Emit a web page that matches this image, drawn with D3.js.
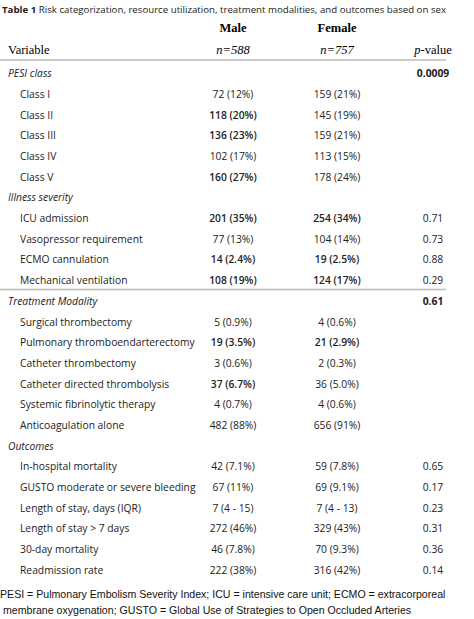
<!DOCTYPE html>
<html>
<head>
<meta charset="utf-8">
<script src="https://cdn.jsdelivr.net/npm/d3@7"></script>
<style>
  body { margin: 0; background: #fff; }
</style>
</head>
<body>
<div id="table"></div>
<script>
const labels = ["PESI class", "Class I", "Class II", "Class III", "Class IV", "Class V",
  "Illness severity", "ICU admission", "Vasopressor requirement", "ECMO cannulation", "Mechanical ventilation",
  "Treatment Modality", "Surgical thrombectomy", "Pulmonary thromboendarterectomy", "Catheter thrombectomy",
  "Catheter directed thrombolysis", "Systemic fibrinolytic therapy", "Anticoagulation alone",
  "Outcomes", "In-hospital mortality", "GUSTO moderate or severe bleeding", "Length of stay, days (IQR)",
  "Length of stay > 7 days", "30-day mortality", "Readmission rate"];
const isSection = [1,0,0,0,0,0, 1,0,0,0,0, 1,0,0,0,0,0,0, 1,0,0,0,0,0,0];
const male = ["", "72 (12%)", "118 (20%)", "136 (23%)", "102 (17%)", "160 (27%)",
  "", "201 (35%)", "77 (13%)", "14 (2.4%)", "108 (19%)",
  "", "5 (0.9%)", "19 (3.5%)", "3 (0.6%)", "37 (6.7%)", "4 (0.7%)", "482 (88%)",
  "", "42 (7.1%)", "67 (11%)", "7 (4 - 15)", "272 (46%)", "46 (7.8%)", "222 (38%)"];
const female = ["", "159 (21%)", "145 (19%)", "159 (21%)", "113 (15%)", "178 (24%)",
  "", "254 (34%)", "104 (14%)", "19 (2.5%)", "124 (17%)",
  "", "4 (0.6%)", "21 (2.9%)", "2 (0.3%)", "36 (5.0%)", "4 (0.6%)", "656 (91%)",
  "", "59 (7.8%)", "69 (9.1%)", "7 (4 - 13)", "329 (43%)", "70 (9.3%)", "316 (42%)"];
const pvalue = ["0.0009", "", "", "", "", "",
  "", "0.71", "0.73", "0.88", "0.29",
  "0.61", "", "", "", "", "", "",
  "", "0.65", "0.17", "0.23", "0.31", "0.36", "0.14"];
const boldValues = ["118 (20%)", "136 (23%)", "160 (27%)", "201 (35%)", "254 (34%)", "14 (2.4%)", "19 (2.5%)",
  "108 (19%)", "124 (17%)", "19 (3.5%)", "21 (2.9%)", "37 (6.7%)"];

const width = 474, height = 619;
const svg = d3.select("#table").append("svg")
  .attr("width", width).attr("height", height);

const font = "'Open Sans', sans-serif";
const serif = "'Liberation Serif', serif";

// title
const title = svg.append("text").attr("x", 2).attr("y", 13)
  .attr("font-family", font).attr("font-size", 9.6).attr("fill", "#222")
  .attr("textLength", 444).attr("lengthAdjust", "spacingAndGlyphs");
title.append("tspan").attr("font-weight", "bold").text("Table 1");
title.append("tspan").text(" Risk categorization, resource utilization, treatment modalities, and outcomes based on sex");

// header
const colX = { male: 233, female: 337, p: 433 };
const head = (x, yy, txt, opts = {}) => svg.append("text").attr("x", x).attr("y", yy)
  .attr("text-anchor", opts.anchor || "middle")
  .attr("font-family", serif).attr("font-size", 12.5)
  .attr("font-weight", opts.bold ? "bold" : "normal")
  .attr("font-style", opts.italic ? "italic" : "normal")
  .text(txt);
head(colX.male, 32, "Male", { bold: true });
head(colX.female, 32, "Female", { bold: true });
head(8, 54, "Variable", { anchor: "start" });
head(colX.male, 54, "n=588", { italic: true });
head(colX.female, 54, "n=757", { italic: true });
const ph = svg.append("text").attr("x", colX.p).attr("y", 54).attr("text-anchor", "middle")
  .attr("font-family", serif).attr("font-size", 12.5);
ph.append("tspan").attr("font-style", "italic").text("p");
ph.append("tspan").text("-value");

const y = d3.scaleBand()
  .domain(d3.range(labels.length))
  .range([63, 580]);

const line = (yy) => svg.append("line").attr("x1", 0).attr("x2", 446)
  .attr("y1", yy).attr("y2", yy).attr("stroke", "#bbb").attr("stroke-width", 1.3);
line(60);
line(y(11) - 1);

const rows = svg.append("g").selectAll("g")
  .data(labels.map((l, i) => ({ l, i })))
  .join("g")
  .attr("transform", d => `translate(0, ${y(d.i) + y.bandwidth() / 2 + 4})`);

rows.append("text")
  .attr("x", d => isSection[d.i] ? 8 : 20)
  .attr("font-family", font).attr("font-size", 10.3).attr("fill", "#222")
  .attr("font-style", d => isSection[d.i] ? "italic" : "normal")
  .text(d => d.l);

rows.append("text").attr("x", colX.male).attr("text-anchor", "middle")
  .attr("font-family", font).attr("font-size", 10.3).attr("fill", "#222")
  .attr("font-weight", d => boldValues.includes(male[d.i]) ? 600 : "normal")
  .text(d => male[d.i]);
rows.append("text").attr("x", colX.female).attr("text-anchor", "middle")
  .attr("font-family", font).attr("font-size", 10.3).attr("fill", "#222")
  .attr("font-weight", d => boldValues.includes(female[d.i]) ? 600 : "normal")
  .text(d => female[d.i]);
rows.append("text").attr("x", colX.p).attr("text-anchor", "middle")
  .attr("font-family", font).attr("font-size", 10.3).attr("fill", "#222")
  .attr("font-weight", d => d.i === 0 || d.i === 11 ? "bold" : "normal")
  .text(d => pvalue[d.i]);

// footnote
const foot = ["PESI = Pulmonary Embolism Severity Index; ICU = intensive care unit; ECMO = extracorporeal",
  " membrane oxygenation; GUSTO = Global Use of Strategies to Open Occluded Arteries"];
svg.append("g").selectAll("text").data(foot).join("text")
  .attr("x", 0).attr("y", (d, i) => 598 + i * 16)
  .attr("font-family", "'Liberation Sans', Arial, sans-serif").attr("font-size", 10.6).attr("fill", "#111")
  .attr("xml:space", "preserve")
  .text(d => d);
</script>
</body>
</html>
